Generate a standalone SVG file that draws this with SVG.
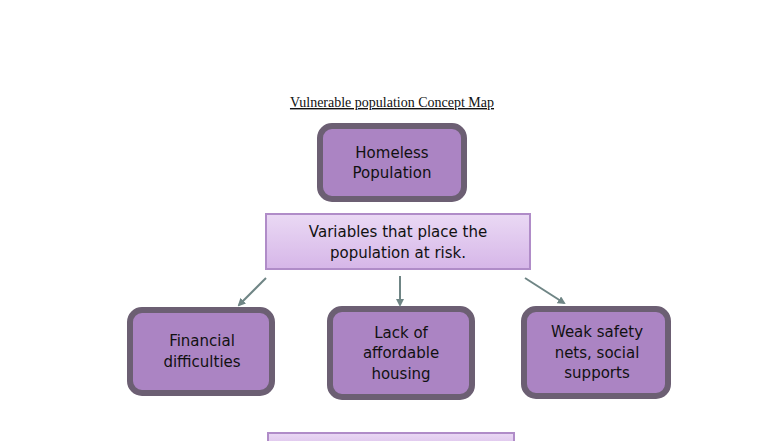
<svg xmlns="http://www.w3.org/2000/svg" width="784" height="441" viewBox="0 0 784 441">
<defs>
<linearGradient id="lg" x1="0" y1="0" x2="0" y2="1"><stop offset="0" stop-color="#ead9f4"/><stop offset="1" stop-color="#d6b6e8"/></linearGradient>
<marker id="ah" markerWidth="8" markerHeight="8" refX="6" refY="4" orient="auto" markerUnits="userSpaceOnUse"><path d="M0,0 L8,4 L0,8 z" fill="#6f8585"/></marker>
</defs>
<style>
.rb{fill:#ab84c3;stroke:#6c5f73;stroke-width:6}
.lb{fill:url(#lg);stroke:#b08cc8;stroke-width:2}
text{font-family:"DejaVu Sans",sans-serif;font-size:15px;fill:#111;text-anchor:middle}
.c{stroke:#6f8585;stroke-width:2;fill:none;marker-end:url(#ah)}
</style>
<rect width="784" height="441" fill="#fff"/>
<text x="392" y="107" style="font-family:'Liberation Serif',serif;font-size:14px;text-decoration:underline">Vulnerable population Concept Map</text>
<g id="homeless"><rect class="rb" x="320" y="126" width="144" height="73" rx="12"/><text x="392" y="158">Homeless</text><text x="392" y="178">Population</text></g>
<g id="variables"><rect class="lb" x="266" y="214" width="264" height="55"/><text x="398" y="237">Variables that place the</text><text x="398" y="258">population at risk.</text></g>
<g id="financial"><rect class="rb" x="130" y="310" width="142" height="83" rx="12"/><text x="202" y="346">Financial</text><text x="202" y="367">difficulties</text></g>
<g id="housing"><rect class="rb" x="330" y="309" width="142" height="88" rx="12"/><text x="401" y="338">Lack of</text><text x="401" y="358">affordable</text><text x="401" y="379">housing</text></g>
<g id="weak"><rect class="rb" x="524" y="309" width="144" height="87" rx="12"/><text x="597" y="337">Weak safety</text><text x="597" y="358">nets, social</text><text x="597" y="378">supports</text></g>
<g id="bottom"><rect class="lb" x="268" y="433" width="246" height="20"/></g>
<g id="connectors">
<line class="c" x1="266" y1="278" x2="239" y2="305"/>
<line class="c" x1="400" y1="276" x2="400" y2="305"/>
<line class="c" x1="525" y1="278" x2="564" y2="303"/>
</g>
</svg>
